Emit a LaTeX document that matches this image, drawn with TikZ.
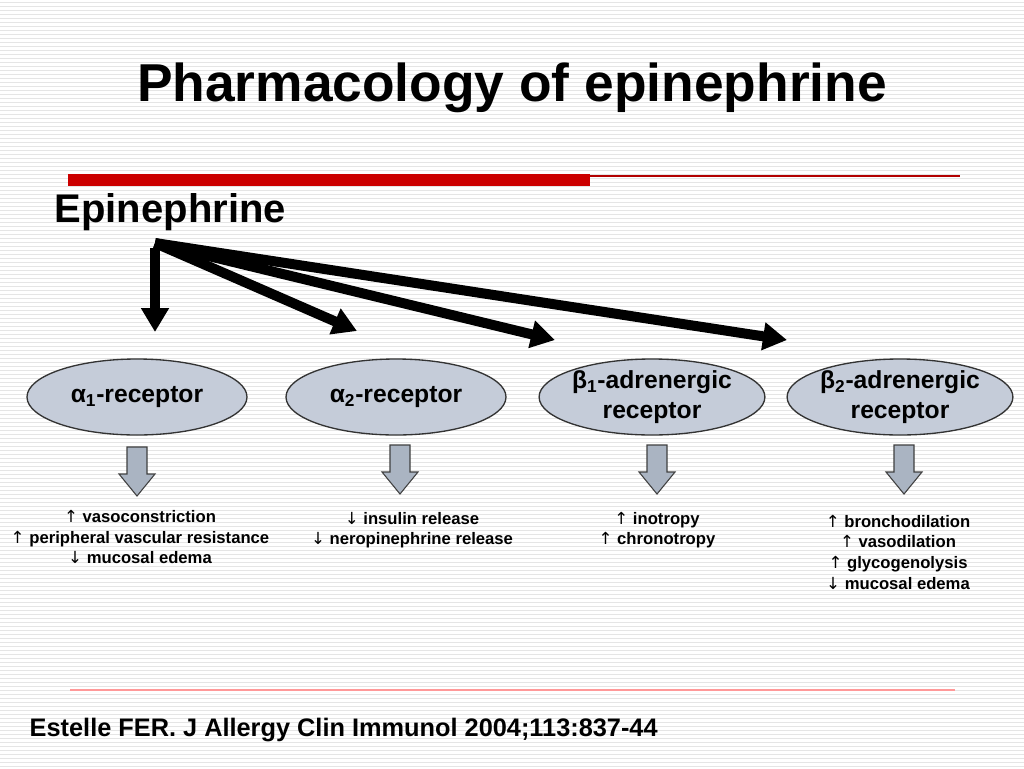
\documentclass[tikz,border=0pt]{standalone}
\usepackage{fontspec}
\setmainfont{Liberation Sans}
\newfontfamily\arrfont{DejaVu Sans}
\usetikzlibrary{arrows.meta,shapes.geometric}
\newcommand{\up}{{\arrfont\mdseries ↑}}
\newcommand{\dn}{{\arrfont\mdseries ↓}}
\begin{document}
\begin{tikzpicture}[x=0.75pt,y=-0.75pt,
  rec/.style={ellipse,draw=black!80,line width=1pt,fill={rgb,255:red,197;green,204;blue,217},minimum width=165pt,minimum height=57pt,font=\bfseries\fontsize{18.5}{22}\selectfont,align=center,inner sep=0pt},
  eff/.style={font=\bfseries\fontsize{12.5}{15.5}\selectfont,align=center},
  big/.style={line width=7.5pt,-{Triangle[length=18pt,width=20pt]}},
  blk/.style={draw=black!75,fill={rgb,255:red,170;green,180;blue,194},line width=0.8pt,line join=miter},
  pics/blkarrow/.style={code={\path[blk] (-10,-24) -- (10,-24) -- (10,3) -- (18,3) -- (0,25) -- (-18,3) -- (-10,3) -- cycle;}}]
\useasboundingbox (0,0) rectangle (1024,768);
\fill[white] (0,0) rectangle (1024,768);
\foreach \y in {2,6,...,766} \draw[black!10,line width=0.6pt] (0,\y) -- (1024,\y);
\node[font=\bfseries\fontsize{40}{46}\selectfont] (title) at (512,88) {Pharmacology of epinephrine};
\fill[red!80!black] (68,174) rectangle (590,186);
\draw[red!70!black,line width=0.8pt] (590,176) -- (960,176);
\draw[red!40,line width=0.8pt] (70,690) -- (955,690);
\node[anchor=west,font=\bfseries\fontsize{30}{34}\selectfont] (epi) at (50,212) {Epinephrine};
\coordinate (o) at (155,243);
\coordinate (o2) at (155,248);
\node[rec] (a1) at (137,397) {α\textsubscript{1}-receptor};
\node[rec] (a2) at (396,397) {α\textsubscript{2}-receptor};
\node[rec] (b1) at (652,397) {β\textsubscript{1}-adrenergic\\receptor};
\node[rec] (b2) at (900,397) {β\textsubscript{2}-adrenergic\\receptor};
\coordinate (t1) at (155,332);
\coordinate (t2) at (357,331);
\coordinate (t3) at (555,340);
\coordinate (t4) at (787,340);
\draw[big] (o2) -- (t1);
\draw[big] (o) -- (t2);
\draw[big] (o) -- (t3);
\draw[big] (o) -- (t4);
\pic (k1) at (137,471) {blkarrow};
\pic (k2) at (400,469) {blkarrow};
\pic (k3) at (657,469) {blkarrow};
\pic (k4) at (904,469) {blkarrow};
\node[eff] (e1) at (140,537) {\up{} vasoconstriction\\\up{} peripheral vascular resistance\\\dn{} mucosal edema};
\node[eff] (e2) at (412,530) {\dn{} insulin release\\\dn{} neropinephrine release};
\node[eff] (e3) at (657,530) {\up{} inotropy\\\up{} chronotropy};
\node[eff] (e4) at (898,552) {\up{} bronchodilation\\\up{} vasodilation\\\up{} glycogenolysis\\\dn{} mucosal edema};
\node[anchor=west,font=\bfseries\fontsize{19}{22}\selectfont] (cit) at (25,730) {Estelle FER. J Allergy Clin Immunol 2004;113:837-44};
\end{tikzpicture}
\end{document}
